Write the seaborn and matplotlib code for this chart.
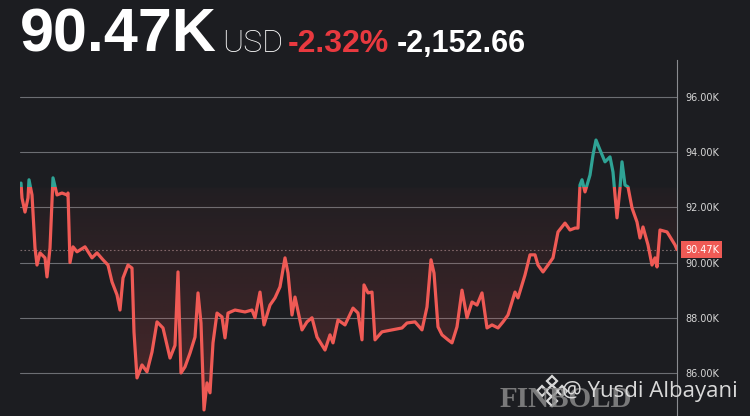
import numpy as np
import pandas as pd
import matplotlib
matplotlib.use("Agg")
import matplotlib.pyplot as plt
import matplotlib.transforms as mtransforms
from matplotlib.patches import Rectangle
from matplotlib.path import Path
from matplotlib.lines import Line2D
import seaborn as sns

# ---- data (time step index, price in thousands USD) ----
t = [1, 2, 5, 8, 9, 12, 15, 17, 20, 25, 27, 30, 33, 37, 42, 47, 48, 50, 53, 57, 65, 72, 77,
     83, 88, 92, 97, 100, 103, 108, 112, 114, 117, 122, 127, 132, 137, 143, 150, 155, 158,
     161, 165, 170, 175, 178, 181, 184, 187, 190, 193, 197, 202, 205, 208, 215, 225, 232,
     235, 240, 244, 250, 255, 260, 265, 268, 272, 275, 282, 287, 292, 297, 305, 310, 313,
     318, 325, 333, 338, 342, 344, 348, 352, 355, 362, 372, 382, 387, 395, 402, 407, 411,
     414, 418, 422, 428, 432, 437, 442, 447, 452, 457, 462, 467, 472, 478, 483, 488, 495,
     498, 505, 510, 515, 518, 523, 528, 533, 538, 545, 550, 555, 558, 560, 562, 565, 570,
     573, 576, 580, 585, 590, 593, 597, 600, 602, 605, 608, 612, 617, 620, 623, 628, 632,
     635, 637, 640, 647, 652, 655, 657]
price = [92.88, 92.34, 91.83, 92.34, 93.00, 92.45, 90.53, 89.91, 90.35, 90.17, 89.48, 90.53,
         93.07, 92.45, 92.52, 92.45, 92.52, 90.00, 90.57, 90.39, 90.57, 90.17, 90.35, 90.10,
         89.91, 89.30, 88.83, 88.28, 89.44, 89.91, 89.80, 87.48, 85.82, 86.29, 86.04, 86.76,
         87.85, 87.63, 86.54, 87.00, 89.66, 86.00, 86.22, 86.72, 87.30, 88.90, 87.81, 84.66,
         85.64, 85.28, 87.09, 88.17, 88.03, 87.27, 88.17, 88.28, 88.21, 88.28, 88.00, 88.93,
         87.74, 88.46, 88.72, 89.12, 90.17, 89.62, 88.10, 88.75, 87.56, 87.85, 88.00, 87.30,
         86.83, 87.38, 87.09, 87.92, 87.74, 88.35, 88.17, 87.20, 89.19, 88.90, 88.93, 87.20,
         87.49, 87.56, 87.63, 87.81, 87.85, 87.56, 88.39, 90.10, 89.62, 87.67, 87.38, 87.20,
         87.09, 87.67, 89.00, 88.00, 88.57, 88.46, 88.90, 87.63, 87.74, 87.63, 87.85, 88.10,
         88.93, 88.72, 89.55, 90.28, 90.28, 89.91, 89.66, 89.91, 90.17, 91.11, 91.43, 91.18,
         91.25, 91.25, 92.81, 93.00, 92.56, 93.17, 93.90, 94.44, 94.08, 93.65, 93.83, 93.28,
         91.62, 92.70, 93.65, 92.81, 92.74, 91.98, 91.47, 90.89, 91.29, 90.64, 89.91, 90.17,
         89.84, 91.18, 91.11, 90.82, 90.64, 90.47]
baseline = 92.72
last_price = 90.47
yticks = [86, 88, 90, 92, 94, 96]
ytick_labels = ["86.00K", "88.00K", "90.00K", "92.00K", "94.00K", "96.00K"]
header_price = "90.47K"
header_ccy = "USD"
header_pct = "-2.32%"
header_chg = "-2,152.66"

BG = "#1c1d21"
RED = "#ef5a55"
TEAL = "#2fa395"
GRID = "#6c6e73"

sns.set_theme(style="dark")
plt.rcParams["font.family"] = ["DejaVu Sans"]

df = pd.DataFrame({"t": t, "price": price})

fig = plt.figure(figsize=(7.5, 4.16), dpi=100, facecolor=BG)
ax = fig.add_axes([20 / 750, 0, 657 / 750, 356 / 416])
ax.set_facecolor(BG)

ylo, yhi = 84.44, 97.34
xmax = 657

# gradient fill between line and baseline (below baseline): faint near baseline, stronger below
grad = np.zeros((256, 2, 4))
r, g, b = matplotlib.colors.to_rgb("#d24a48")
grad[..., 0], grad[..., 1], grad[..., 2] = r, g, b
levels = np.linspace(ylo, baseline, 256)
alpha = 0.03 + 0.19 * np.clip((baseline - levels) / (baseline - 86.0), 0, 1)
grad[..., 3] = alpha[:, None]
im = ax.imshow(grad, extent=[0, xmax, ylo, baseline], origin="lower", aspect="auto",
               zorder=1, interpolation="bilinear")
pr = np.array(price)
poly = ax.fill_between(df["t"], np.minimum(pr, baseline), baseline, facecolor="none",
                       edgecolor="none", zorder=0)
cpath = Path.make_compound_path(*poly.get_paths())
im.set_clip_path(cpath, ax.transData)

# grid lines
for yv in yticks:
    ax.axhline(yv, color=GRID, lw=0.8, zorder=0.5)
ax.axhline(last_price, color="#7a6a6c", lw=0.8, ls=(0, (1.5, 2)), zorder=0.6)

# line colored by baseline
sns.lineplot(data=df, x="t", y="price", ax=ax, color=RED, lw=2.3, zorder=3)
red_line = ax.lines[-1]
red_line.set_clip_path(Rectangle((0, ylo - 5), xmax, baseline - ylo + 5, transform=ax.transData))
sns.lineplot(data=df, x="t", y="price", ax=ax, color=TEAL, lw=2.3, zorder=3)
teal_line = ax.lines[-1]
teal_line.set_clip_path(Rectangle((0, baseline), xmax, 20, transform=ax.transData))

ax.set_xlim(0, xmax)
ax.set_ylim(ylo, yhi)
ax.set_xlabel("")
ax.set_ylabel("")
ax.set_xticks([])
ax.yaxis.tick_right()
ax.set_yticks(yticks)
ax.set_yticklabels(ytick_labels)
ax.tick_params(axis="y", length=0, pad=6, labelsize=7, labelcolor="#d6d6d6")
for s in ["top", "left", "bottom"]:
    ax.spines[s].set_visible(False)
ax.spines["right"].set_visible(True)
ax.spines["right"].set_color("#8a8c90")
ax.spines["right"].set_linewidth(0.8)
ax.grid(False)

# last price label
trans = mtransforms.blended_transform_factory(ax.transAxes, ax.transData)
ax.text(1.012, last_price, header_price, transform=trans, ha="left", va="center",
        color="white", fontsize=7, zorder=6, clip_on=False,
        bbox=dict(boxstyle="square,pad=0.35", fc=RED, ec="none"))

# header
yb = 1 - 52 / 416
fig.text(20 / 750, yb, header_price, color="white", fontsize=44, fontweight="bold",
         family="Liberation Sans", va="baseline", ha="left")
fig.text(222 / 750, yb, header_ccy, color="white", fontsize=23, fontweight="light",
         family="Roboto", va="baseline", ha="left")
fig.text(288 / 750, yb, header_pct, color="#e8393f", fontsize=23, fontweight="bold",
         family="Liberation Sans", va="baseline", ha="left")
fig.text(397 / 750, yb, header_chg, color="white", fontsize=22, fontweight="bold",
         family="Liberation Sans", va="baseline", ha="left")

# watermark
fig.text(500 / 750, 1 - 407 / 416, "FINBOLD", color="#8a8a8a", fontsize=21,
         fontweight="bold", family="Liberation Serif", va="baseline", ha="left", alpha=0.85)
cx, cy = 552, 391
for dx, dy, ms in [(0, 0, 6), (-10, 0, 5), (10, 0, 5), (0, -10, 5), (0, 10, 5)]:
    fig.add_artist(Line2D([(cx + dx) / 750], [1 - (cy + dy) / 416], marker="D",
                          markersize=ms, markerfacecolor="none", markeredgecolor="#d8d8d8",
                          markeredgewidth=1.6, transform=fig.transFigure))
fig.text(562 / 750, 1 - 397 / 416, "@ Yusdi Albayani", color="#d9d9d9", fontsize=16,
         family="Open Sans", va="baseline", ha="left")

fig.savefig("out.png", dpi=100, facecolor=BG)
